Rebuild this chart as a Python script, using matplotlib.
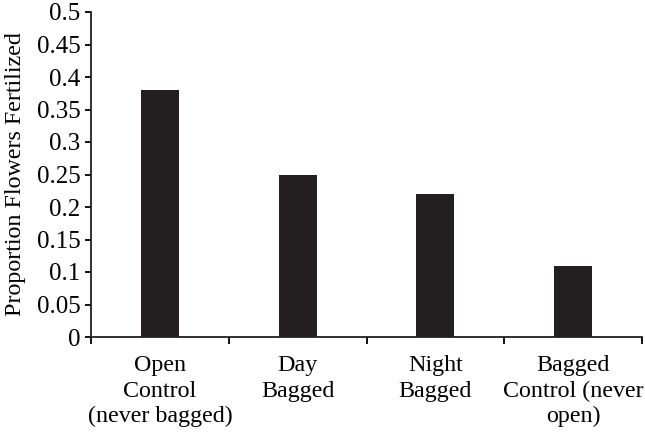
import matplotlib
matplotlib.use("Agg")
import matplotlib.pyplot as plt
import numpy as np

categories = ["Open\nControl\n(never bagged)", "Day\nBagged", "Night\nBagged", "Bagged\nControl (never\nopen)"]
values = [0.38, 0.25, 0.22, 0.11]
yticks = [0, 0.05, 0.1, 0.15, 0.2, 0.25, 0.3, 0.35, 0.4, 0.45, 0.5]
ytick_labels = ["0", "0.05", "0.1", "0.15", "0.2", "0.25", "0.3", "0.35", "0.4", "0.45", "0.5"]

plt.rcParams['font.family'] = ['Liberation Serif', 'DejaVu Serif']

fig = plt.figure(figsize=(6.45, 4.32), dpi=100)
ax = fig.add_axes([91/645, 1-337/432, (642-91)/645, (337-12)/432])

x = np.arange(len(categories))
ax.bar(x, values, width=0.276, color="#231f20", zorder=3)

ax.set_xlim(-0.5, len(categories) - 0.5)
ax.set_ylim(0, 0.5)
ax.set_yticks(yticks)
ax.set_yticklabels(ytick_labels, fontsize=18)

ax.set_xticks(x)
ax.set_xticklabels(categories, fontsize=17.3, linespacing=1.28)
ax.tick_params(axis='x', which='major', length=0, pad=13)
ax.set_xticks(np.arange(len(categories) + 1) - 0.5, minor=True)
ax.tick_params(axis='x', which='minor', length=5, width=1.3, direction='out')
ax.tick_params(axis='y', length=4.5, width=1.3, direction='out', pad=3)

for s in ['top', 'right']:
    ax.spines[s].set_visible(False)
for s in ['left', 'bottom']:
    ax.spines[s].set_linewidth(1.3)
    ax.spines[s].set_color('#231f20')

ax.set_ylabel("Proportion Flowers Fertilized", fontsize=17.3, labelpad=8)

fig.savefig("out.png", dpi=100)
